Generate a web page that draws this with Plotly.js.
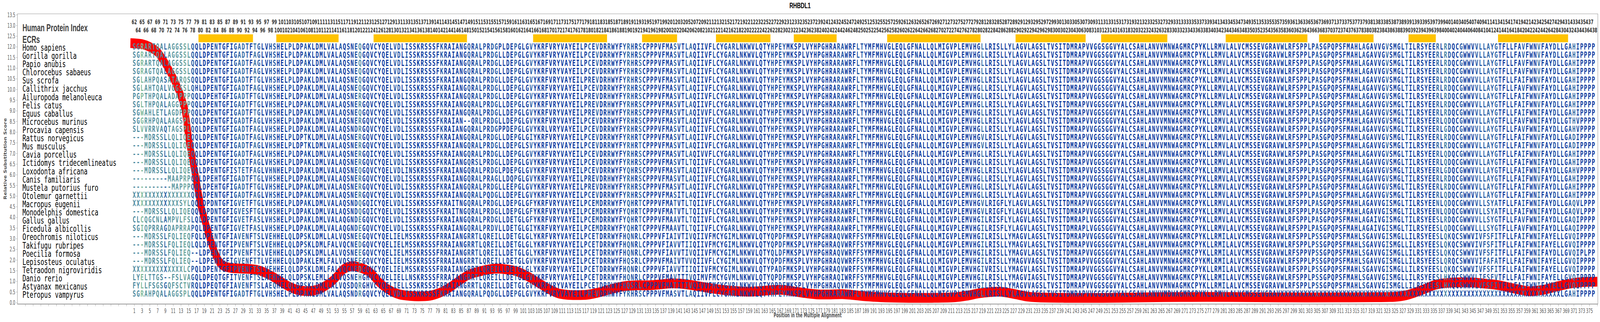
<!DOCTYPE html>
<html><head><meta charset="utf-8">
<script src="https://cdn.plot.ly/plotly-3.0.1.min.js"></script>
<style>html,body{margin:0;padding:0;background:#fff;overflow:hidden}#chart{width:6126px;height:825px;transform-origin:0 0;position:absolute;left:0;top:0}</style>
</head><body><div id="chart"></div>
<script>
const species = ["Homo sapiens","Gorilla gorilla","Papio anubis","Chlorocebus sabaeus","Sus scrofa","Callithrix jacchus","Ailuropoda melanoleuca","Felis catus","Equus caballus","Microcebus murinus","Procavia capensis","Rattus norvegicus","Mus musculus","Cavia porcellus","Ictidomys tridecemlineatus","Loxodonta africana","Canis familiaris","Mustela putorius furo","Otolemur garnettii","Macropus eugenii","Monodelphis domestica","Gallus gallus","Ficedula albicollis","Oreochromis niloticus","Takifugu rubripes","Poecilia formosa","Lepisosteus oculatus","Tetraodon nigroviridis","Danio rerio","Astyanax mexicanus","Pteropus vampyrus"];

// alignment columns 1-13
const blockA = ["SGRARTQALAGGS","SGRARTQALAGGS","SGRARTQALAGGS","SGRAGTQALAGGS","SGLAHPQASATAR","SGLAHTQALVGGS","PGPTHPQALADAP","SGLTHPQALAGGP","SGWAHLETLAGDP","SGGRHPQALAAGS","SLVVRRVAQTAGS","---MDRSSLLQLI","---MDRSSLLQLI","---MDRSSLLQLI","---MDRSSLLQLI","---MDRSSLLQLI","---------MAAP","----------MAP","XXXXXXXXXXXXX","XXXXXXXXXXXXS","---MDRSSLLQLI","CLCQGCNLAMPVL","SGIQPRRAGDAPR","---MDRSSLFQLI","---MDRSSLFQLI","---MDRSSLFQLI","---MDRSSLFQLI","XXXXXXXXXXXXX","LYELTTGS--FSL","FYLLFSGSGQFSC","SGRAHPQALAGGS"];
// columns 13-54 (first letter repeats the previous block's last column)
const blockB = ["SSLQQLDPENTGFIGADTFTGLVHSHELPLDPAKLDMLVALA","SSLQQLDPENTGFIGADTFAGLVHSHELPLDPAKLDMLVALA","SSLQQLDPENTGFIGADTFAGLVHSHELPLDPAKLDMLVALA","SSLQQLDPENTGFIGADTFAGLVHSHELPLDPAKLDMLVALA","RQSQQLDPENTGFIGADTFTGLVHSHELPLDPAKLDMLVALA","SSLQHLDPENTGFIGADTFAGLVHSHELPLDPAKLDMLVALA","PPPQQLDPEHTGFIGADTFTGLVHSHELPLDPAKLDMLVALA","PPPQQLDPENTGFIGADTFTGLVHSHELPLDPAKLDMLVALA","PPPQQLDPENTGFIGADTFTGLVHSHELPLDPAKLDMLVALA","SPLQQLDPENTGFIGADTFAGLVHSHELPLDPAKLDMLVALA","SPLQQLDPENTGFIGADTFAGLVHSHELPLDPAKLDMLVALA","IQEQQLDPENTGFIGADTFAGLVHSHELPLDPTKLDMLVALA","IQEQQLDPENTGFIGADTFAGLVHSHELPLDPTKLDMLVALA","IQEQQLDPENTGFIGADTFAGLVHSHELPLDPAKLDMLVALA","IQEQQLDPENTGFIGADTFAGLVHSHELPLDPAKLDMLVALA","IQEQQLDPENTGFISTETFAGLVHNHELPLDPAKLDMLVALA","PRPQQLDPEHTGFIGADTFTGLVHSHELPLDPAKLDMLVALA","PPPQQLDPEHTGFIGADTFTGLVHSHELPLDPAKLDMLVALA","XXXQQLDPENTGFIGADTFAGLVHSHELPLDPAKLDMLVALA","SYLQQLDPDNTGFIGVETFTGLVHSHELPLDPAKLDMLVALA","IQEQQLDPDNTGFIGVESFTGLVHSHELPLDPAKLDMLVALA","LFSLQLDPENTGFIGVETFASLVHSHELPLDPAKLDMLVALA","RRAPQLDPENTGFIGVETFASLVHSHELPLDPAKLDMLVALA","IEQFQLDPENTGFIAVENFTSLVEHHELQLDPSKLDMLLALV","IEQLQLDPENTGFIPVENFTSLVEHHELQLDPSKLDMLFALV","IEQ--LDPENTGFIPVENFTSLVEHHELQLDPSKLDMLLALV","IEQ--LDPENTGFIGVENFTTLVEHHELQLDPAKLEMLFALV","XLCPQLDPENTGFIPVENFTSLVEHHELQLDPSKLDMLFALV","LVAGQLDPEQTGFITVENFTSLAEHHELQLDPSKLEMLLALV","CTVRQLDPEQTGFIAVENFTSLAEQHELQLDPSKLDMLLALV","SPLQQLDPENTGFIGADTFTGLVHSHELPLDPAKLDMLVALA"];
// columns 54-93
const blockC = ["AQSNEQGQVCYQELVDLISSKRSSSFKRAIANGQRALPRD","AQSNEQGQVCYQELVDLISSKRSSSFKRAIANGQRALPRD","AQSNEQGQVCYQELVDLISSKRSSSFKRAIANGQRALPRD","AQSNEQGQVCYQELVDLISSKRSSSFKRAIANGQRALPRD","AQSNEQGQVCYQELVDLISSKRSSSFKRAIANGQRALPRD","AQSNEQGQVCYQELVDLISSKRSSSFKRAIANGQRALPRD","AQSNERGQVCYQELVDLISSKRSSSFKRAIANGQRALPRD","AQSNERGQVCYQELVDLISSKRSSSFKRAIANGQRALPRD","AQSNEQGQVCYQELVDLISSKRSSSFKRAIANGQRALPRD","AQSNERGQVCYQELVDLISSKRSSSFKRAIAN--QRLPRD","AQSNDRGQVCYQELVDLISSKRSSSFKRAIANGQRALPRD","AQSNERGQVCYQELVDLISSKRSSSFKRAIANGQRALPRD","AQSNERGQVCYQELVDLISSKRSSSFKRAIANGQRALPRD","AQSNERGQICYQELVDLISSKRSSSFKRAIANGQRALPRD","AQSNERGQVCYQELVDLISSKRSSSFKRAIANGQRSLPRD","AQSNEQGQVCYQELVDLINSKRSSSFKRAIANGQRALPRD","AQSNERGQVCYQELVDLISSKRSSSFKRAIANGQRALPRA","AQSNERGQVCYQELVDLISSKRSSSFKRAIANGQRALPRD","AQSNERGQVCYQELVDLISSKRSSSFKRAIANGQRALPQD","AQSNDQGQICYQELVDLISSKRSSSFKRAITNGQRALPRD","AQSNDQGQICYQELVDLISSKRSSSFKRAITNGQRALPRD","AQGNDEGQVCYQELVDLISSKRSSSFKRAIANGQRALPRD","AQGNDEGQVCYQELVDLISSKRSSSFKRAIANGQRALPRD","VQSNEEGQVCYQELIELMSSKRSSSFRRAIANGRRTLQRE","VQCNEDGQVCYQELIELMSSKRSSSFRRAIANGRRTLQRE","VQSNEEGQVCYQELIELMSSKRSSSFRRAIANGRRTLQRE","VQSNEEGQVCYQELIELMSSKRSSSFRRAIANGRRTLQRE","VQCNEDGQVCYQELIELMSSKRSSSFRRAIANGRRTLQRE","VQSNEHGHVCYQELIELLNSKRSSSFRRAIANGRRTLQRE","VQSDQRGHVCYQELIELLSSKRSSSFRRAIANGRRTLQRE","AQSNDRGQVCYQELVDLISSKRSSSFKRAIANGQRALPQD"];
// columns 93-141
const blockD = ["DGPLDEPGLGVYKRFVRYVAYEILPCEVDRRWYFYRHRSCPPPVFMASV","DGLLDEPGLGVYKRFVRYVAYEILPCEVDRRWYFYRHRSCPPPVFMASV","DGLLDEPGLGVYKRFVRYVAYEILPCEVDRRWYFYRHRSCPPPVFMASV","DGLLDEPGLGVYKRFVRYVAYEILPCEVDRRWYFYRHRSCPPPVFMASV","DGLLDEPGLGVYKRFVRYVAYEILPREVDRHWYFYRHRSCPPPVFMASV","DGLLDEPGLGVYKRFVRYVAYEILPCEVDRRWYFYRHRSCPPPVFMASV","DGLLDEPGLGVYKRFVRYVAYEILPREVDRHWYFYRHRSCPPPVFMASV","DGLLDEPGLGVYKRFVRYVAYEILPREVDRHWYFYRHRSCPPPVFMASV","DGLLDEPGLGVYKRFVRYVAYEILPREVDRHWYFYRHRSCPPPVFMASV","DGLLDEPGLGVYKRFVRYVAYEILPCEVDRRWYFYRHRSCPPPVFMASV","DGPPDEPGLGVYKRLVRYVAYEILPCEVDRRWYFYRHRSCPPPVFMASV","DGLLDEPGLGIYKRFVRYVAYEILPCEVDRRWYFYRHRTCPPPVFMASV","DGLLDEPGLSVYKRFVRYVAYEILPCEVDRRWYFYRHRTCPPPVFMASV","DGLLDEPGLGVYKRFVRYVAYEILPCEVDRRWYFYRHRSCPPPVFMASV","DGLLDEPGLGVYKRFVRYVAYEILPCEVDRRWYFYRHRSCPPPVFMASV","DGLPDEPGLGVYKRFVRYVAYEILPCEVDRRWYFYQHRSCPPPVFMASV","AGLLDQPGLGVYKRFVRYVAYEILPREVDRHWYFYRHRSCPPPVFMASV","DGLLEEPGLGVYKRFVRYVAYEILPREVDRHWYFYRHRSCPPPVFMASV","DGLLDEPELGVYKRFVRYVAYEILPCEVDRRWYFYRHRSCPPPVFMASI","DGLLDEPGLGFYKRFVRYVAYEILPCEMDRRWYFYQHRTCPPPVFMATV","DGLLDEPGLGFYKRFVRYVAYEILPCEMDRRWYFYQHRTCPPPVFMATV","DGLLDETGLGFYKRFVRYVAYEILPCEMDRRWYFYQHRTCPPPVFMAAV","DVLLDETGLGIYKRFVRYVAYEILPCEMDRRWYFYQHRTCPPPVFMAAV","EILLDETGLGLYKRFVRYVAYEILPCETDRRWYFHQNRLCPPPVFIAIV","EILLDETGLGLYKRFVRYVAYEILPCETDRRWYFHQNRLCPPPVFIAVV","EILLDETGLGLYKRFVRYVAYEILPCETDRRWYFHQNRLCPPPVFIAVV","EILLDETGLGVYKRFVRYVAYEILPCETDRRWYFHQSRLCPPPVFMAIV","EILLDETGLGLYKRFVRYVAYEILPCETDRRWYFHQNRLCPPPVFIAVV","EILLDETGLGVYKRFVRYVAYEILPCETDRRWYFHQNRLCPPPVFMAVI","EILLDETGLGVYKRFVRYVAYEILPCETDRRWYFHQSRLCPPPVFMATI","DGLLDEPGLGVYKRFVRYVAYEILPREVDRHWYFYRHRSCPPPVFMASV"];
// columns 141-188
const blockE = ["VTLAQIIVFLCYGARLNKWVLQTYHPEYMKSPLVYHPGHRARAWRFLT","VTLAQIIVFLCYGARLNKWVLQTYHPEYMKSPLVYHPGHRARAWRFLT","VTLAQIIVFLCYGARLNKWVLQTYHPEYMKSPLVYHPGHRARAWRFLT","VTLAQIIVFLCYGARLNKWVLQTYHPEYMKSPLVYHPGHRARAWRFLT","VTLAQIIVFLCYGARLNKWVLQTYHPEYMKSPLVYHPGHRARAWRFLT","VTLAQIIVFLCYGARLNKWVLQTYHPEYMKSPLVYHPGHRARAWRFLT","VTLAQIIVFLCYGARLNKWVLQTYHPEYMKSPLVYHPGHRARAWRFLT","VTLAQIIVFLCYGARLNKWVLQTYHPEYMKSPLVYHPGHRARAWRFLT","VTLAQIVVFLCYGARLNKWVLQTYHPEYMRSPLVYHPSHRARAWRFLT","VTLAQIIVFLCYGARLNKWVLQTYHPEYMKSPLVYHPGHRARAWRFLT","VTLAQIIVFLCYGARLNKWVLQTYHPEYMKSPLVYHPGHRARAWRFLT","VTLAQIIVFLCYGARLNKWVLQTYHPEYMKSPLVYHPGHRARAWRFLT","VTLAQIIVFLCYGARLNKWVLQTYHPEYMKSPLVYHPGHRARAWRFLT","VTLAQIVVFLCYGARLNKWVLQTYHPEYMKSPLVYHPGHRARAWRFLT","VTLTQIIVFLCYGARLNKWVLQTYHPEYMKSPLVYHPGHRARAWRFLT","VTLAQIIVFLCYGARLNKWVLQTYHPEYMKSPLVYHPGHRARAWRFLT","VTLAQIIVFLCYGARLNKWVLQTYHPEYMKSPLVYHPGHRARAWRFLT","VTLAQIIVFLCYGARLNKWVLQTYHPEYMKSPLVYHPGHRARAWRFLT","ITLAQIIVFLCYGARLNKWVLQTYHPEYMKSPLVYHPGHRARAWRFLT","VTLTQIIVFLCYGARLNKWVLQTYHPEYMKSPLVYHPGHRARAWRFLT","VTLTQIIVFLCYGARLNKWVLQTYHPEYMKSPLVYHPGHRARAWRFLT","VTLTQIIVFLCYGARLNKWVLQTYHPEYMKSPLVYHPGHRARAWRFLT","VTLTQIIVFLCYGARLNKWVLQTYHPEYMKSPLVYHPGHRARAWRFLT","VTIVQIIVFMCYGIMLNKWVLQTYQPDFMKSPLVYHPGHRAQVWRFFS","VTIIQIIVFMCYGIMLNKWVLQTYQPDFMKSPLVYHPGHRAQVWRFFS","VTIVQIIVFMCYGIMLNKWVLQTYQLDFMKSPLVYHPGHRAQVWRFFS","VTVVQIIVFLCYGIMLNKWVLQTYQPDFMKSPLVYHPGHRAQVWRFFS","VTIIQIIVFMCYGIMLNKWVLQTYPADFMKSPLVYHPGHRAQVWRFFS","ITIVQIMVFMCYGVMLNKWVLQTYQPDFMKSPLVYHPGHRAQIWRFFS","ITIVQIVVFMCYGVRLNKWVLQTYQPDFMKSPLVYHPGHRAQVWRFFS","VTLAQIIVFLCYGARLNKWVLQTYHPEYMKSPLVYHPGHRARAWRFLT"];
// columns 188-235
const blockF = ["TYMFMHVGLEQLGFNALLQLMIGVPLEMVHGLLRISLLYLAGVLAGSL","TYMFMHVGLEQLGFNALLQLMIGVPLEMVHGLLRISLLYLAGVLAGSL","TYMFMHVGLEQLGFNALLQLMIGVPLEMVHGLLRISLLYLAGVLAGSL","TYMFMHVGLEQLGFNALLQLMIGVPLEMVHGLLRISLLYLAGVLAGSL","TYMFMHVGLEQLGFNALLQLMIGVPLEMVHGLLRISLLYLAGVLAGSL","TYMFMHVGLEQLGFNALLQLMIGVPLEMVHGLLRISLLYLAGVLAGSL","TYMFMHVGLEQLGFNALLQLMIGVPLEMVHGLLRISLLYLAGVLAGSL","TYMFMHVGLEQLGFNALLQLMIGVPLEMVHGLLRISLLYLAGVLAGSL","TYMFMHVGLEQLGFNALLQLMIGVPLEMVHGLLRISLLYLAGVLAGSL","TYMFMHVGLEQLGFNALLQLMIGVPLEMVHGLLRISLLYLAGVLAGSL","TYMFMHAGLEQLGFNALLQLMIGVPLEMVHGLLRISLLYLAGVLAGSL","TYMFMHVGLEQLGFNALLQLMIGVPLEMVHGVLRISLLYLAGVLAGSL","TYMFMHVGLEQLGFNALLQLMIGVPLEMVHGVLRISLLYLAGVLAGSL","TYMFMHVGLEQLGFNALLQLMIGVPLEMVHGLLRISLLYLAGVLAGSL","TYMFMHAGLEQLGFNALLQLMIGVPLEMVHGLLRISLLYLAGVLAGSL","TYMFMHVGLEQLGFNALLQLMIGVPLEMVHGLLRISLLYLAGVLAGSL","TYMFMHVGLEQLGFNALLQLMIGVPLEMVHGLLRISLLYLAGVLAGSL","TYMFMHVGLEQLGFNALLQLMIGVPLEMVHGLLRISLLYLAGVLAGSL","TYMFMHVGLEQLGFNALLQLMIGVPLEMVHGLLRISLLYLAGVLAGSL","TYMFMHVGLEQLGFNALLQLMIGVPLEMVHGVLRIGFLYLAGVLAGSL","TYMFMHVGLEQLGFNALLQLMIGVPLEMVHGVLRIGFLYLAGVLAGSL","TYMFMHVGLEQLGFNALLQLMIGVPLEMVHGILRISFLYLAGVLAGSL","TYMFMHVGLEQLGFNALLQLMIGVPLEMVHGILRISFLYLAGVLAGSL","SYMFMHVGLEQLGFNALLQLMIGVPLEMVHGILRISLLYMAGVLAGSL","SYMFMHVGLEQLGFNALLQLMIGVPLEMVHGILRISLLYMAGVLAGSL","SYMFMHVGLEQLGFNALLQLMIGVPLEMVHGILRISLLYMAGVLAGSL","SYMFMHVGLEQLGFNALLQLMIGVPLEMVHGILRISLLYMAGVVAGSL","SYMFMHVGLEQLGFNALLQLMIGVPLEMVHGIVRISLLYMAGVLAGSL","SYMFMHVGLEQLGFNALLQLMIGVPLEMVHGILRISLLYMAGVIAGSL","SYMFMHVGLEQLGFNALLQLMIGVPLEMVHGILRISLLYMAGVVAGSL","TYMFMHVGLEQLGFNALLQLMIGVPLEMVHGLLRISLLYLAGVLAGSL"];
// columns 235-283
const blockG = ["LTVSITDMRAPVVGGSGGVYALCSAHLANVVMNWAGMRCPYKLLRMVLA","LTVSITDMRAPVVGGSGGVYALCSAHLANVVMNWAGMRCPYKLLRMVLA","LTVSITDMRAPVVGGSGGVYALCSAHLANVVMNWAGMRCPYKLLRMVLA","LTVSITDMRAPVVGGSGGVYALCSAHLANVVMNWAGMRCPYKLLRMVLA","LTVSITDMRAPVVGGSGGVYALCSAHLANVVMNWAGMRCPYKLLRMVLA","LTVSITDMRAPVVGGSGGVYALCSAHLANVVMNWAGMRCPYKLLRMVLA","LTVSITDMRAPVVGGSGGVYALCSAHLANVVMNWAGMRCPYKLLRMVLA","LTVSITDMRAPVVGGSGGVYALCSAHLANVVMNWAGMRCPYKLLRMVLA","LTVSITDMRAPVVGGSGGVYALCSAHLANVVMNWAGMRCPYKLLRMVLA","LTVSITDMRAPVVGGSGGVYALCSAHLANVVMNWAGMRCPYKLLRMVLA","LTVSITDMRAPVVGGSGGVYALCSAHLANVVMNWAGMRCPYKLLRMVLA","LTVSITDMRAPVVGGSGGVYALCSAHLANVVMNWAGMRCPYKLLRMVLA","LTVSITDMRAPVVGGSGGVYALCSAHLANVVMNWAGMRCPYKLLRMVLA","LTVSITDMRAPVVGGSGGVYALCSAHLANVVMNWAGMRCPYKLLRMVLA","LTVSITDMRAPVVGGSGGVYALCSAHLANVVMNWAGMRCPYKLLRMVLA","LTVSITDMRAPVVGSSGGVYALCSAHLANVVMNWAGMRCPYKLLRMVLA","LTVSITDMRAPVVGGSGGVYALCSAHLANVVMNWAGMRCPYKLLRMVLA","LTVSITDMRAPVVGGSGGVYALCSAHLANVVMNWAGMRCPYKLLRMVLA","LTVSITDMRAPVVGGSGGVYALCSAHLANVVMNWAGMRCPYKLLRMVLA","LTVSITDMRAPVVGGSGGVYALCSAHLANVVMNWAGMRCPYKLLRMVLA","LTVSITDMRAPVVGGSGGVYALCSAHLANVVMNWAGMRCPYKLLRMVLA","LTVSITDMRAPLVGGSGGVYALCSAHLANVVMNWAGMRCPYKLLRMVLA","LTVSITDMRAPLVGGSGGVYALCSAHLANVVMNWAGMRCPYKLLRMVLA","LTVSITDMRAPVVGGSGGVYALCSAHLANVVMNWAGMRCPYKLLRMILA","LTVSITDMRAPVVGGSGGVYALCSAHLANVVMNWAGMRCPYKLLRMILA","LTVSITDMRAPVVGGSGGVYALCSAHLANVVMNWAGMRCPYKLLRMILA","LTVSITDMRAPVVGGSGGVYALCSAHLANVVMNWAGMRCPYKMLRMILA","LTVSITDMRAPVVGGSGGVYALCSAHLANVVMNWAGMRCPYKLLRMILA","LTVSITDMRAPVVGGSGGVYALCSAHLANVVMNWAGMKCPYKLLRMILA","LTVSITDMRAPVVGGSGGVYALCSAHLANVVMNWAGMKCPYKLLRMILA","LTVSITDMRAPVVGGSGGVYALCSAHLANVVMDWAGMRCPYKLLRMVLA"];
// columns 283-330
const blockH = ["ALVCMSSEVGRAVWLRFSPPLPASGPQPSFMAHLAGAVVGVSMGLTIL","ALVCMSSEVGRAVWLRFSPPLPASGPQPSFMAHLAGAVVGVSMGLTIL","ALVCMSSEVGRAVWLRFSPPLPASGPQPSFMAHLAGAVVGVSMGLTIL","ALVCMSSEVGRAVWLRFSPPLPASGPQPSFMAHLAGAVVGVSMGLTIL","ALVCMSSEVGRAVWLRFSPPLPASGPQPSFMAHLAGAVVGVSMGLTIL","ALVCMSSEVGRAVWLRFSPPLPASGPQPSFMAHLAGAVVGVSMGLTIL","ALVCMSSEVGRAVWLRFSPPLPASGPQPSFMAHLAGAVVGVSMGLTIL","ALVCMSSEVGRAVWLRFSPPLPASGPQPSFMAHLAGAVVGVSMGLTIL","ALVCMSSEVGRAVWLRFSPPLPASGPQPSFMAHLAGAVVGVSMGLTIL","ALVCMSSEVGRAVWLRFSPPLPASGPQPSFMAHLAGAVVGVSMGLTIL","ALVCMSSEVGRAVWLRFSPPLPASGPQPSFMAHLAGAVVGVSMGLTIL","ALVCMSSEVGRAVWLRFSPPLPASGPQPSFMAHLAGAVVGVSMGLTIL","ALVCMSSEVGRAVWLRFSPPLPASGPQPSFMAHLAGAVVGVSMGLTIL","ALVCMSSEVGRAVWLRFSPPLPASGPQPSFMAHLAGAVVGVSMGLTIL","ALVCMSSEVGRAVWLRFSPPLPSSGPQPSFMAHLAGAVVGVSMGLTIL","ALVCMSSEVGRAVWLRFSPPLPASGPQPSFMAHLAGAVVGVSMGLTIL","ALVCMSSEVGRAVWLRFSPPLPASGPQPSFMAHLAGAVVGVSMGLTIL","ALVCMSSEVGRAVWLRFSPPLPASGPQPSFMAHLAGAVVGVSMGLTIL","ALVCMSSEVGRAVWLRFSPPLPASGPQPSFMAHLAGAVVGVSMGLTIL","ALVCMSSEVGRAVWLRFSPPLPASGPQPSFMAHLAGAVVGISMGLTIL","ALVCMSSEVGRAVWLRFSPPLPASGPQPSFMAHLAGAVVGISMGLTIL","ALVCMSSEVGRAVWLRFSPPLPASGPQPSFMAHLAGAIVGISMGLTIL","ALVCMSSEVGRAVWLRFSPPLPASGPQPSFMAHLAGAIVGISMGLTIL","ALVCMSSEVGRAVWLRFSPPLPSSGPQPSFMAHLSGAVVGISMGLLIL","ALVCMSSEVGRAVWLRFSPPLPSSGPQPSFMAHLSGAVVGISMGLLIL","ALVCMSSEVGRAVWLRFSPPVPSSGPQPSFMAHLSGAVVGISMGLLIL","ALVCMSSEVGRAVWLRFSPPLPSSGPQPSFMAHLSGAVVGISMGLLIL","ALVCMSSEVGRAVWLRFSPPLPSSGPQPSFMAHLSGAVVGISMGLLIL","ALVCMSSEVGRAVWLRFSPPLPSSGPQPSFMAHLSGAVVGISMGLLIL","ALVCMSSEVGRAVWLRFSPPLPSSGPQPSFMAHLSGAVVGISMGLLIL","ALVCMSSEVGRAVXXXXXXXXXXXXXXXXXXXXXXXXXXXXXXXXXXX"];
// columns 330-376
const blockI = ["LRSYEERLRDQCGWWVVLLAYGTFLLFAVFWNVFAYDLLGAHIPPPP","LRSYEERLRDQCGWWVVLLAYGTFLLFAVFWNVFAYDLLGAHIPPPP","LRSYEERLRDQCGWWVVLLAYGTFLLFAVFWNVFAYDLLGAHIPPPP","LRSYEERLRDQCGWWVVLLAYGTFLLFAVFWNVFAYDLLGAHIPPPP","LRSYEERLRDQCGWWVVLLAYGTFLLFAIFWNVFAYDLLGAHIPPPP","LRSYEERLRDQCGWWVVLLAYGTFLLFAVFWNVFAYDLLGAHIPPPP","LRSYEERLRDQCGWWVVLLAYGTFLLFAIFWNVFAYDLLGAHIPPPP","LRSYEERLRDQCGWWVVLLAYGTFLLFAIFWNVFAYDLLGAHIPPPP","LRSYEERLRDQCGWWVVLLAYGTFLLFAIFWNIFAYDLLGAHIPPPP","LRSYEERLQDQCGWWVVLLAYGTFLLFAVFWNIFAYDLLGTHVPPPP","LRSYEERLGDQCGWWVVLLAYGTFLLFAVFWNIFAYDLLGAHVPPPP","LRSYEERLRDQCGWWVVLLAYGTFLLFAIFWNVFAYDLLGADIPPPP","LRSYEERLRDQCGWWVVLLAYGTFLLFAIFWNVFAYDLLGADIPPPP","LRSYEERLQDQCGWWVVLLAYGTFLLFAIFWNVFAYDLLGAHIPPPP","LRSYEERLQDQCGWWVVLLAYGTFLLFAIFWNIFAYDLLGAHIPPPP","LRSYEERLGDQCGWWVVLLAYGTFLLFAIFWNIFAYDLLGAHVPPPP","LRSYEERLRDQCGWWVVLLAYGTFLLFAIFWNVFAYDLLGAHIPPPP","LRSYEERLRDQCGWWVVLLAYGTFLLFAIFWNVFAYDLLGAHIPPPP","LRSYEERLQDQCGWWVVLLAYGTFLLFAIFWNIFAYDLLGAHIPPPP","LRSYEENLQDQCGWWVVLLSYATFLLFAIFWNIFAYDLLGAQVLPPP","LRSYEENLQDQCGWWVVLLSYATFLLFAIFWNIFAYDLLGAQVLPPP","LRSYEESLRDQCGWWVVLLSYGTFLLFAVFWNIFAYDLLGAQIPPPP","LRSYEESLQDQCGWWVLLLSYGTFLLFAVFWNIFAYDLLGAQIPPPP","LRSYEESLQKQCSWWVIVFSFITFLLFAIFWNIFAYELLGVQIPPPP","LRSYEESLQKQCSWWVIVFSFITFLLFAIFWNIFAYELLGVQIPPPP","LRSYEESLQKQCSWWVIVFSFITFLLFAIFWNIFAYDLLGVQIPLPP","LRSYEESLQRQCSWWVVIFAFATFLLFAIFWNIFAYELLGVQIPPPP","LRSYEESLQKQCSWWVIVFSFITFLLFAIFWNIFAYELLGVQIPPPP","LRSYEESLHKQCSWWVLIFSFVTFLLFAIFWNIFAYELLGVQIPPPP","LRSYEESLHKQCSWWVLVFSFITFLLFAIFWNIFAYELLGVQIPPPP","XXXXXXXXXXXXXXXXXXXXXXXXXXXXXXXXXXXXXXLGAHIPPPP"];

// ECR blocks (alignment column ranges)
const ecrRanges = [[18,31],[38,53],[63,86],[104,122],[132,140],[151,164],[171,181],[195,218],[228,245],[250,266],[282,302],[306,319],[329,335],[352,369]];
// Human protein index: first column 62, then 64..438
const humanIndexFirst = 62, humanIndexNext = 64, humanIndexLast = 438;

// Relative substitution score
const scorePos = [0,1,3,5,7,8,9,10,11,12,13,14,15,16,17,18,19,20,21,22,23,24,26,29,31,33,35,37,39,41,43,45,47,49,51,52,53,54,55,57,59,61.5,64,66.5,69,72,74,77,79.5,82,84.5,87,90,92,94,96,99,102,105,108,110,112,114.5,117.5,120.5,123.5,127,130,133,136,139,141,143.5,146.5,149.5,152.5,155.5,158.5,162,165,168,171,174,177,180,183,186,188,191,194,200,206,212,215,218,221,223,224.5,227.5,230.5,233.5,240,250,260,270,283,295,310,320,325,328,330,332.5,335.5,339,342,345,348,351.5,354.5,357.5,359,360.5,363.5,366.5,370,373,377];
const scoreVal = [12.18,12.17,12.13,12.0,11.75,11.5,11.22,10.9,10.55,10.15,9.7,9.05,7.7,6.68,5.67,4.65,3.95,3.3,2.7,2.22,1.88,1.72,1.63,1.6,1.58,1.52,1.38,1.18,0.95,0.74,0.6,0.55,0.57,0.68,0.9,1.04,1.22,1.45,1.6,1.72,1.65,1.44,0.95,0.6,0.4,0.32,0.3,0.33,0.47,0.71,1.03,1.32,1.48,1.56,1.6,1.58,1.49,1.25,0.92,0.6,0.44,0.38,0.36,0.38,0.49,0.64,0.78,0.82,0.82,0.86,0.91,0.9,0.85,0.76,0.67,0.6,0.55,0.52,0.55,0.6,0.6,0.52,0.44,0.39,0.39,0.4,0.36,0.32,0.28,0.25,0.23,0.23,0.26,0.33,0.44,0.5,0.52,0.5,0.4,0.29,0.25,0.23,0.23,0.25,0.27,0.27,0.25,0.25,0.26,0.28,0.36,0.47,0.64,0.85,0.94,0.96,0.95,0.9,0.83,0.71,0.6,0.55,0.55,0.62,0.76,0.9,0.97,0.99];

// ---------- sizing: draw at 6126x825 and fit the actual viewport ----------
const W = 6126, H = 825;
const vw = document.documentElement.clientWidth || window.innerWidth || W;
const vh = document.documentElement.clientHeight || window.innerHeight || H;
document.getElementById('chart').style.transform = 'scale('+(vw/W)+','+(vh/H)+')';

const blocks = [blockA,blockB,blockC,blockD,blockE,blockF,blockG,blockH,blockI];
const seqs = species.map((s,i)=>blocks.map((b,k)=>k===0?b[i]:b[i].slice(1)).join(''));
const nCols = seqs[0].length;
const nRows = species.length;
const rowTop = 11.97, rowStep = 0.3865;
const rowY = species.map((s,i)=>rowTop - i*rowStep);

function hex2rgb(h){return [parseInt(h.slice(1,3),16),parseInt(h.slice(3,5),16),parseInt(h.slice(5,7),16)];}
const stops = [[0.0,'#8fc89a'],[0.12,'#8fc89a'],[0.2,'#74ad9c'],[0.35,'#5592a0'],[0.5,'#3f7aa4'],[0.7,'#2a5fa6'],[0.85,'#1648a3'],[1.0,'#0b3a9f']];
function scaleColor(f){
  for(let k=1;k<stops.length;k++){
    if(f<=stops[k][0]){
      const [f0,c0]=stops[k-1],[f1,c1]=stops[k];
      const t=(f-f0)/((f1-f0)||1);
      const a=hex2rgb(c0),b=hex2rgb(c1);
      return 'rgb('+a.map((v,j)=>Math.round(v+(b[j]-v)*t)).join(',')+')';
    }
  }
  return stops[stops.length-1][1];
}

const lx=[],ly=[],lt=[],lc=[];
for(let j=0;j<nCols;j++){
  const counts={};
  for(let i=0;i<nRows;i++){const ch=seqs[i][j]; if(ch!=='-'&&ch!=='X'){counts[ch]=(counts[ch]||0)+1;}}
  let m=0; for(const k in counts){ if(counts[k]>m) m=counts[k]; }
  const col=scaleColor(m/nRows);
  for(let i=0;i<nRows;i++){ lx.push(j+1); ly.push(rowY[i]); lt.push(seqs[i][j]); lc.push(col); }
}

const hx=[],hy=[],ht=[];
for(let c=1;c<=nCols;c++){
  const lab = c===1 ? humanIndexFirst : humanIndexNext + (c-2);
  hx.push(c); hy.push(c%2===1 ? 13.13 : 12.75); ht.push(String(lab));
}

const narrow = 'Liberation Sans Narrow, Arial Narrow, DejaVu Sans Condensed, sans-serif';

const traces = [
  {x:scorePos, y:scoreVal, type:'scatter', mode:'lines', line:{color:'#ff0000', width:25, shape:'spline', smoothing:0.9}, hoverinfo:'skip', showlegend:false},
  {x:lx, y:ly, text:lt, type:'scatter', mode:'text', textposition:'middle center', textfont:{family:'DejaVu Sans Mono, monospace', size:21, weight:'bold', color:lc}, hoverinfo:'skip', showlegend:false, cliponaxis:false},
  {x:hx, y:hy, text:ht, type:'scatter', mode:'text', textposition:'middle center', textfont:{family:narrow, size:16, weight:'bold', color:'#333333'}, hoverinfo:'skip', showlegend:false, cliponaxis:false}
];

const shapes = ecrRanges.map(r=>({type:'rect', xref:'x', yref:'y', x0:r[0]-0.5, x1:r[1]+0.5, y0:12.22, y1:12.59, fillcolor:'#ffc300', line:{width:0}, layer:'below'}));

const annotations = species.map((s,i)=>({x:-27.9, y:rowY[i], xref:'x', yref:'y', text:s, showarrow:false, xanchor:'left', yanchor:'middle', font:{family:'DejaVu Sans Mono, monospace', size:23, color:'#000000'}}));
annotations.push({x:-27.9, y:12.91, xref:'x', yref:'y', text:'<b>Human Protein Index</b>', showarrow:false, xanchor:'left', yanchor:'middle', font:{family:'Liberation Sans, Arial, sans-serif', size:25, color:'#404040'}});
annotations.push({x:-27.9, y:12.35, xref:'x', yref:'y', text:'<b>ECRs</b>', showarrow:false, xanchor:'left', yanchor:'middle', font:{family:'Liberation Sans, Arial, sans-serif', size:25, color:'#404040'}});
annotations.push({x:-0.0079, y:0.5, xref:'paper', yref:'paper', text:'<b>Relative Substitution Score</b>', textangle:-90, showarrow:false, xanchor:'center', yanchor:'middle', font:{family:narrow, size:15, color:'#555555'}});
annotations.push({x:0.5, y:-0.0404, xref:'paper', yref:'paper', text:'<b>Position in the Multiple Alignment</b>', showarrow:false, xanchor:'center', yanchor:'middle', font:{family:narrow, size:15, color:'#555555'}});

const xt=[], xtt=[];
for(let v=-29; v<=377; v+=2){ xt.push(v); xtt.push(v>0?String(v):''); }
const yt=[], ytt=[];
for(let v=0; v<=13.5001; v+=0.5){ yt.push(v); ytt.push(v.toFixed(1)); }

const layout = {
  width:W, height:H,
  margin:{l:68, r:9, t:36, b:47},
  paper_bgcolor:'#ffffff', plot_bgcolor:'#ffffff',
  title:{text:'<b>RHBDL1</b>', x:0.5, xref:'container', xanchor:'center', y:0.9834, yref:'container', yanchor:'middle', font:{family:'Liberation Sans, Arial, sans-serif', size:20, color:'#000000'}},
  xaxis:{range:[-28.95, 377.1], tickmode:'array', tickvals:xt, ticktext:xtt, ticks:'outside', ticklen:5, tickcolor:'#999999', showline:true, linecolor:'#999999', linewidth:1.5, mirror:true, showgrid:false, zeroline:false, tickfont:{family:narrow, size:15, color:'#555555'}},
  yaxis:{range:[-0.042, 13.542], tickmode:'array', tickvals:yt, ticktext:ytt, ticks:'outside', ticklen:5, tickcolor:'#999999', showline:true, linecolor:'#999999', linewidth:1.5, mirror:true, showgrid:false, zeroline:false, tickfont:{family:narrow, size:15, color:'#555555'}},
  shapes:shapes,
  annotations:annotations,
  showlegend:false
};

Plotly.newPlot('chart', traces, layout, {staticPlot:true, displayModeBar:false});
</script>
</body></html>
